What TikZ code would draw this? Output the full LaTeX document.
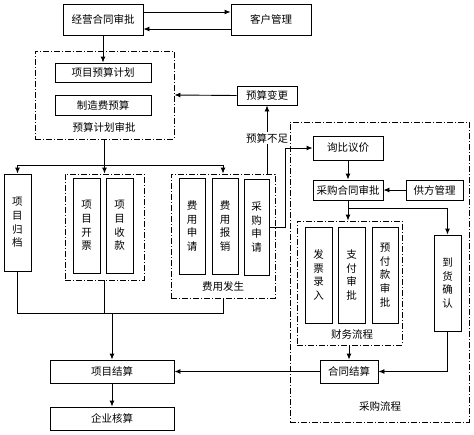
\documentclass[tikz,border=0pt]{standalone}
\usepackage{fontspec}
\setmainfont{Noto Sans CJK SC}
\usetikzlibrary{arrows.meta}

\begin{document}
\begin{tikzpicture}[x=1pt, y=-1pt, line width=0.9pt,
        font=\fontsize{10.5}{13.8}\selectfont,
        box/.style={draw, inner sep=0pt, align=center},
        grp/.style={draw, inner sep=0pt, dash pattern=on 6pt off 2pt on 1pt off 2pt},
        arr/.style={-{Latex[length=6pt,width=5pt]}}]
        \useasboundingbox (0,0) rectangle (474,434);

        \node[box, minimum width=80pt, minimum height=31pt] (hetong) at (103, 19.5) {经营合同审批};
        \node[box, minimum width=80pt, minimum height=31pt] (kehu) at (271, 19.5) {客户管理};
        \draw[arr] ([yshift=7.5pt]hetong.east) -- ([yshift=7.5pt]kehu.west);
        \draw[arr] ([yshift=-9.5pt]kehu.west) -- ([yshift=-9.5pt]hetong.east);

        \node[grp, minimum width=139pt, minimum height=88pt] (ysgrp) at (104.5, 95) {};
        \node[box, minimum width=96pt, minimum height=19pt] (xmys) at (103, 72.5) {项目预算计划};
        \node[box, minimum width=96pt, minimum height=20pt] (zzf) at (103, 105) {制造费预算};
        \node (yslabel) at (104, 127) {预算计划审批};
        \draw[arr] (hetong.south) -- (xmys.north);

        \node[box, minimum width=60pt, minimum height=19pt] (ysbg) at (267, 95.5) {预算变更};
        \draw[arr] (ysbg.west) -- (ysgrp.east);

        \node[box, minimum width=27pt, minimum height=97pt] (gd) at (17.5, 222.5) {项\\目\\归\\档};

        \node[grp, minimum width=79pt, minimum height=106pt] (kpgrp) at (104.5, 227) {};
        \node[box, minimum width=27pt, minimum height=95pt] (kp) at (86.5, 225.5) {项\\目\\开\\票};
        \node[box, minimum width=27pt, minimum height=95pt] (sk) at (119.5, 225.5) {项\\目\\收\\款};

        \node[grp, minimum width=104pt, minimum height=124pt] (fygrp) at (223, 236) {};
        \node[box, minimum width=26pt, minimum height=96pt] (fysq) at (192, 226) {费\\用\\申\\请};
        \node[box, minimum width=26pt, minimum height=96pt] (fybx) at (225, 226) {费\\用\\报\\销};
        \node[box, minimum width=25pt, minimum height=96pt] (cgsq) at (256.5, 227) {采\\购\\申\\请};
        \node (fylabel) at (223, 287) {费用发生};

        \coordinate (split) at (104.5, 165);
        \draw (ysgrp.south) -- (split);
        \draw[arr] (split) -- (kpgrp.north);
        \draw[arr] (split) -| (gd.north);
        \draw[arr] (split) -| (fygrp.north);

        \draw[arr] (fygrp.north -| ysbg.south) -- node[fill=white, inner sep=1pt, pos=0.52] (ysbz) {预算不足} (ysbg.south);

        \node[box, minimum width=124pt, minimum height=23pt] (xmjs) at (112, 371.5) {项目结算};
        \node[box, minimum width=124pt, minimum height=23pt] (qyhs) at (112, 418.5) {企业核算};
        \coordinate (join) at (112, 313);
        \draw (gd.south) |- (join);
        \draw (fygrp.south) |- (join);
        \draw (kpgrp.south) -- (kpgrp.south |- join);
        \draw[arr] (join) -- (xmjs.north);
        \draw[arr] (xmjs.south) -- (qyhs.north);

        \node[grp, minimum width=179pt, minimum height=300pt] (cggrp) at (379.5, 272) {};
        \node (cglabel) at (380, 407) {采购流程};
        \node[box, minimum width=70pt, minimum height=24pt] (xbyj) at (348, 148) {询比议价};
        \node[box, minimum width=70pt, minimum height=20pt] (cght) at (348, 190) {采购合同审批};
        \node[box, minimum width=57pt, minimum height=20pt] (gfgl) at (434.5, 190) {供方管理};

        \node[grp, minimum width=105pt, minimum height=124pt] (cwgrp) at (349.5, 283) {};
        \node[box, minimum width=27pt, minimum height=96pt] (fplr) at (318.5, 275) {发\\票\\录\\入};
        \node[box, minimum width=27pt, minimum height=96pt] (zfsp) at (351.5, 275) {支\\付\\审\\批};
        \node[box, minimum width=26pt, minimum height=96pt] (yfk) at (385, 275) {预\\付\\款\\审\\批};
        \node (cwlabel) at (352, 334) {财务流程};
        \node[box, minimum width=27pt, minimum height=96pt] (dhqr) at (447.5, 283) {到\\货\\确\\认};
        \node[box, minimum width=58pt, minimum height=23pt] (htjs) at (349, 371.5) {合同结算};

        \coordinate (turn) at (285, 227);
        \draw[arr] (cgsq.east) -- (turn) |- (xbyj.west);
        \draw[arr] (xbyj.south) -- (cght.north);
        \draw[arr] (gfgl.west) -- (cght.east);
        \draw[arr] (cght.south) -- (cght.south |- cwgrp.north);
        \draw[arr] ([yshift=-8pt]cght.south) -| (dhqr.north);
        \draw[arr] (cwgrp.south -| htjs.north) -- (htjs.north);
        \draw[arr] (dhqr.south) |- (htjs.east);
        \draw[arr] (htjs.west) -- (xmjs.east);

    \end{tikzpicture}
\end{document}
